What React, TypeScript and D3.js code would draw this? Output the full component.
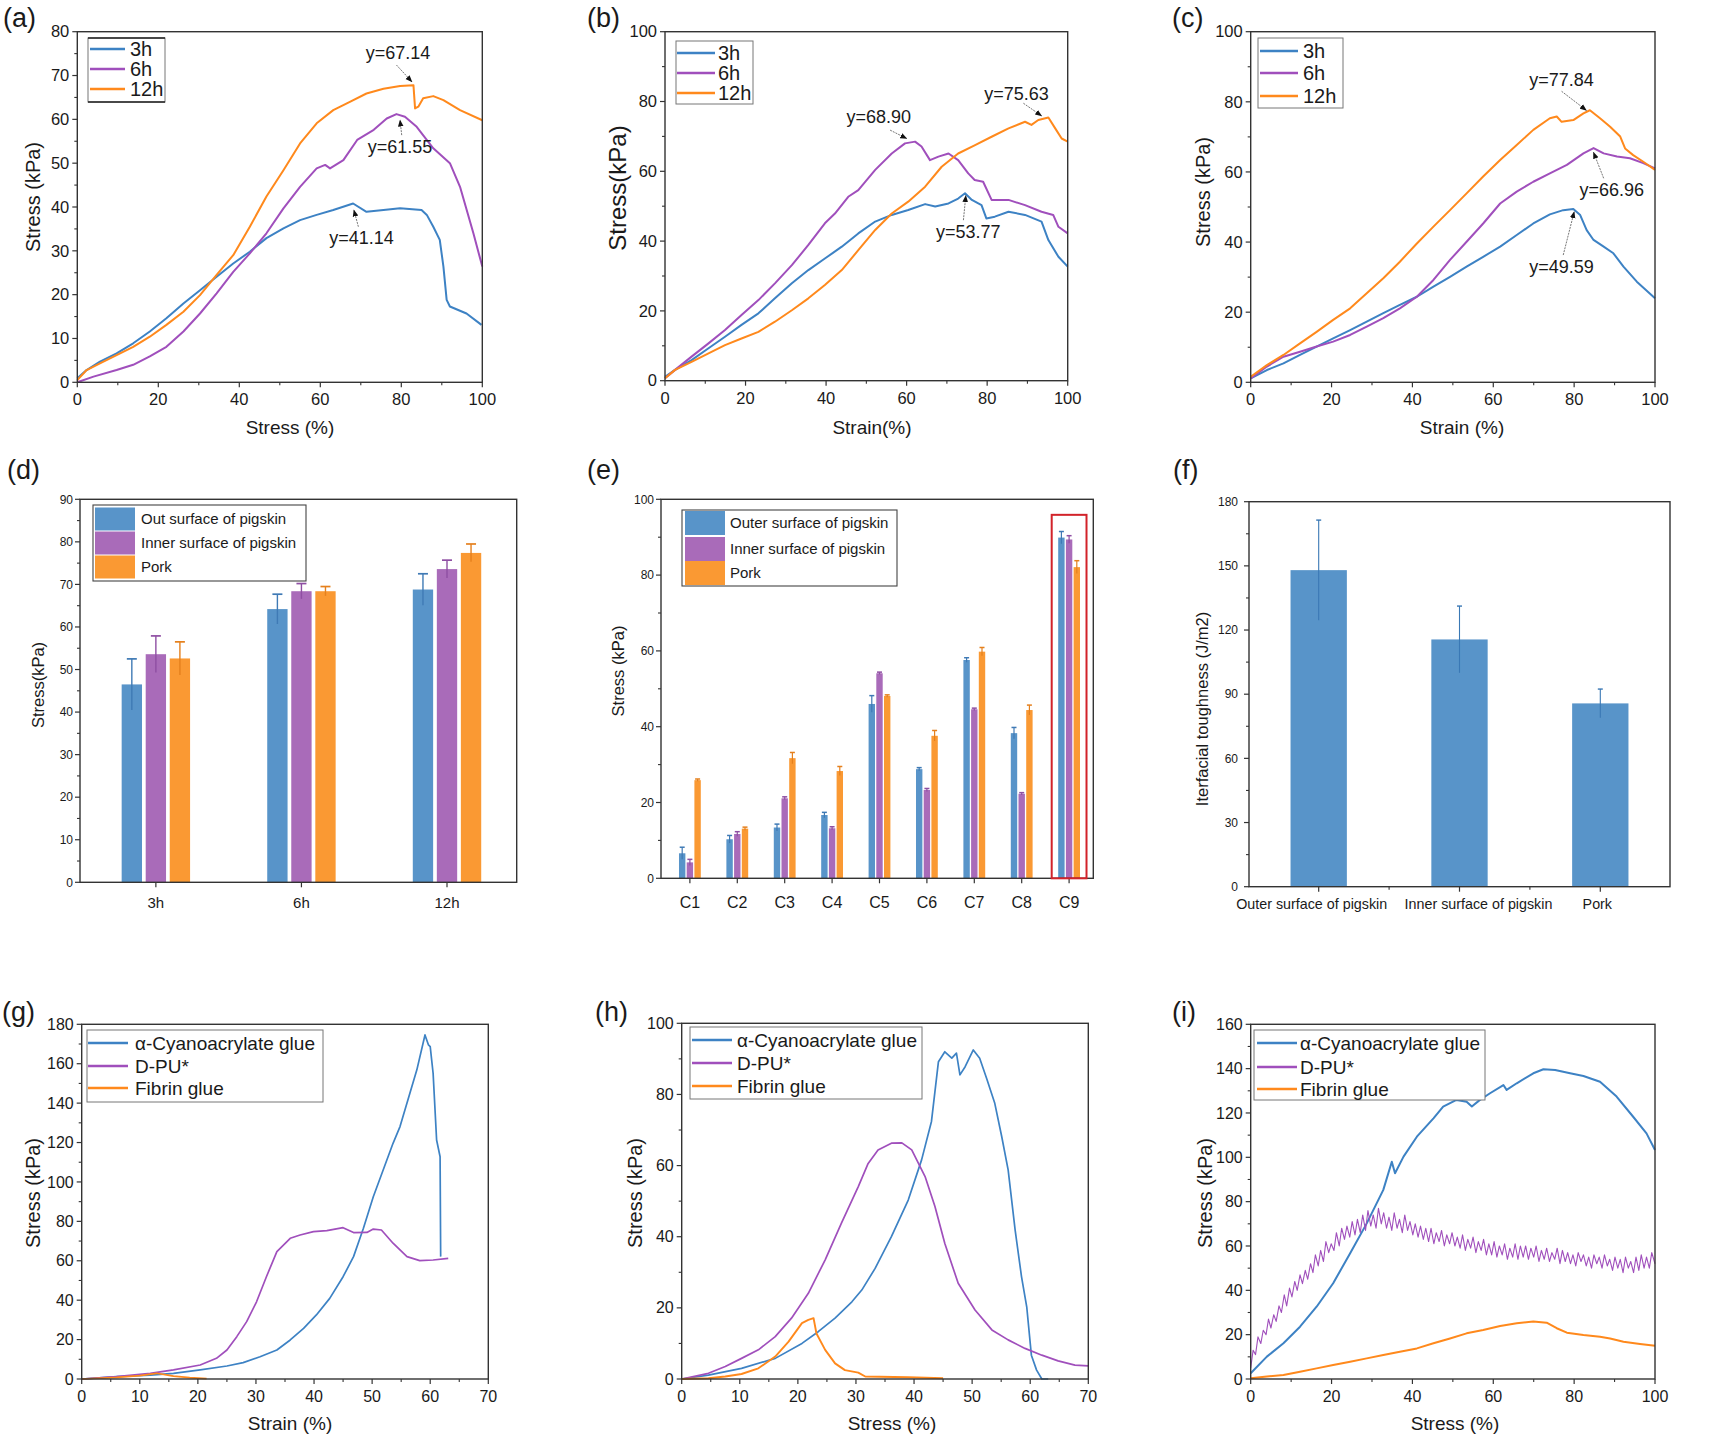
import React from 'react';
import * as d3 from 'd3';

type Pt = [number, number];

const FONT = '"Liberation Sans", Arial, Helvetica, sans-serif';
const BLUE = '#3d82c4';
const PURPLE = '#a04fbc';
const ORANGE = '#ff891c';
const BAR_BLUE = '#5894c9';
const BAR_PURPLE = '#a96bb9';
const BAR_ORANGE = '#fa9933';
const TXT = '#1a1a1a';

// ---------------- (a) ----------------
const a3h: Pt[] = [[0,0.9],[2.3,2.8],[5.6,4.7],[9.7,6.6],[13.8,8.9],[17.9,11.6],[22,14.6],[26.2,18],[30.3,21],[34.4,24.1],[38.5,27.1],[42.6,29.8],[46.7,32.9],[50.9,35.1],[55,37],[59.1,38.2],[63.2,39.3],[68.1,40.8],[71.4,38.9],[75.6,39.3],[79.7,39.7],[85,39.3],[86.3,38.2],[87.9,35.5],[89.5,32.5],[90.4,26.4],[91.2,18.8],[92,17.3],[96.1,15.7],[99.8,13.1]];
const a6h: Pt[] = [[0,0],[4,1.3],[9.7,2.8],[13.8,4],[17.9,5.9],[22,8.1],[26.2,11.6],[30.3,15.7],[34.4,20.3],[38.5,25.2],[42.6,29.4],[46.7,34],[50.9,39.7],[55,44.6],[59.1,48.8],[61.2,49.6],[62.4,48.8],[65.7,50.7],[69.1,55.3],[73.2,57.6],[76.4,60.2],[78.8,61.2],[80.9,60.6],[83.8,58.3],[87.9,53.4],[92,50],[94.5,44.6],[97.8,34],[100,26.4]];
const a12h: Pt[] = [[0,0.5],[2.3,2.8],[5.6,4.3],[9.7,6.2],[13.8,8.1],[17.9,10.4],[22,13.1],[26.2,16.1],[30.3,19.9],[34.4,24.5],[38.5,29],[42.6,35.5],[46.7,42.4],[50.9,48.4],[55,54.5],[59.1,59.1],[63.2,62.1],[67.3,64],[71.4,65.9],[75.6,67],[79.7,67.6],[83,67.8],[83.4,62.5],[84.2,62.9],[85.4,64.8],[87.9,65.3],[90.4,64.4],[94.5,62.1],[100,59.8]];

// ---------------- (b) ----------------
const b3h: Pt[] = [[0,1.1],[2.5,3.1],[6.6,5.9],[10.8,9.3],[14.9,12.6],[19,16],[23.2,19.3],[27.3,23.6],[31.5,27.9],[35.6,31.7],[39.7,35],[43.9,38.4],[48,42.2],[52.2,45.6],[56.3,47.5],[60.4,48.9],[64.6,50.6],[67.1,49.9],[70.4,50.8],[72.8,52.2],[74.5,53.7],[76.2,51.8],[78.6,50.3],[79.8,46.5],[81.9,47],[85.3,48.4],[89.4,47.5],[93.5,45.6],[95.2,40.3],[97.7,35.5],[100,32.7]];
const b6h: Pt[] = [[0,0.7],[2.5,3.1],[6.6,6.9],[10.8,10.7],[14.9,14.5],[19,18.8],[23.2,23.1],[27.3,27.9],[31.5,33.1],[35.6,38.9],[39.7,45.1],[42.2,47.9],[45.5,52.7],[48,54.6],[52.2,60.4],[56.3,65.1],[59.6,68],[62.1,68.5],[63.7,67.1],[65.8,63.2],[67.9,64.2],[70.4,65.1],[72.8,63.2],[75.3,59.4],[76.9,57.5],[79,57],[81.1,51.8],[85.3,51.8],[89.4,50.3],[93.5,48.4],[96.4,47.5],[97.7,44.1],[100,42.2]];
const b12h: Pt[] = [[0,0.7],[2.5,3.1],[6.6,5.4],[10.8,7.8],[14.9,10.2],[19,12.1],[23.2,14],[27.3,16.9],[31.5,20.2],[35.6,23.6],[39.7,27.4],[43.9,31.7],[48,37.4],[52.2,43.2],[56.3,47.9],[60.4,51.3],[64.6,55.6],[68.7,61.3],[72.8,65.1],[77,67.5],[81.1,69.9],[85.3,72.3],[89.4,74.2],[91,73.3],[92.7,74.7],[95.2,75.4],[96.9,72.3],[98.5,69.4],[100,68.5]];

// ---------------- (c) ----------------
const c3h: Pt[] = [[0,1.1],[4,3.5],[8.1,5.4],[12.2,7.8],[16.3,10.2],[20.4,12.5],[24.6,14.9],[28.7,17.3],[32.8,19.7],[36.9,22.1],[41.1,24.4],[45.2,27.3],[49.3,30.1],[53.4,33],[57.5,35.8],[61.7,38.7],[65.8,42],[69.9,45.3],[74,47.9],[77.3,49.1],[79.8,49.4],[81.5,47.7],[83.1,43.4],[84.8,40.6],[87.3,38.7],[89.7,36.8],[92.2,33],[95.5,28.7],[100,24]];
const c6h: Pt[] = [[0,1.1],[4,4.5],[8.1,7.3],[12.2,8.7],[16.3,10.2],[20.4,11.6],[24.6,13.5],[28.7,15.9],[32.8,18.3],[36.9,21.1],[41.1,24.4],[45.2,29.2],[49.3,34.9],[53.4,40.1],[57.5,45.3],[61.7,51],[65.8,54.4],[69.9,57.2],[74,59.6],[78.2,62],[82.3,65.3],[84.8,66.8],[87.3,65.3],[90.6,64.4],[93.8,63.9],[97.1,62.5],[100,61]];
const c12h: Pt[] = [[0,1.6],[4,4.9],[8.1,7.8],[12.2,11.1],[16.3,14.4],[20.4,17.8],[24.6,21.1],[28.7,25.4],[32.8,29.7],[36.9,34.4],[41.1,39.6],[45.2,44.4],[49.3,49.1],[53.4,53.9],[57.5,58.7],[61.7,63.4],[65.8,67.7],[69.9,72],[74,75.3],[75.7,75.8],[76.9,74.3],[79.8,74.8],[82.3,76.7],[83.9,77.6],[86.4,75.3],[88.9,72.9],[91.4,70.1],[92.6,66.7],[94.6,64.8],[97.1,62.9],[100,60.6]];

// ---------------- (d) ----------------
const dCats = ['3h', '6h', '12h'];
const dOuter = [46.5, 64.2, 68.8];
const dOuterErr = [6.0, 3.5, 3.7];
const dInner = [53.6, 68.4, 73.6];
const dInnerErr = [4.3, 1.8, 2.1];
const dPork = [52.6, 68.4, 77.4];
const dPorkErr = [3.9, 1.1, 2.1];

// ---------------- (e) ----------------
const eCats = ['C1', 'C2', 'C3', 'C4', 'C5', 'C6', 'C7', 'C8', 'C9'];
const eOuter = [6.6, 10.3, 13.4, 16.7, 46.0, 28.8, 57.6, 38.3, 89.9];
const eOuterErr = [1.6, 1.0, 0.9, 0.7, 2.2, 0.4, 0.6, 1.5, 1.6];
const eInner = [4.2, 11.7, 21.1, 13.2, 54.1, 23.3, 44.6, 22.3, 89.4];
const eInnerErr = [0.8, 0.6, 0.4, 0.4, 0.3, 0.4, 0.3, 0.3, 1.0];
const ePork = [25.9, 13.1, 31.7, 28.3, 48.1, 37.6, 59.8, 44.4, 82.1];
const ePorkErr = [0.3, 0.4, 1.5, 1.2, 0.3, 1.4, 1.1, 1.3, 1.7];
const eHighlight = 'C9';
const eHighlightTop = 95.9;

// ---------------- (f) ----------------
const fCats = ['Outer surface of pigskin', 'Inner surface of pigskin', 'Pork'];
const fValues = [148.0, 115.6, 85.7];
const fErrs = [23.4, 15.6, 6.7];

// ---------------- (g) ----------------
const gCyano: Pt[] = [[0,0],[6,1.2],[11.8,2],[15.8,2.9],[20.4,4.6],[25,6.6],[27.8,8.3],[30.7,11.3],[33.6,14.7],[35.9,19.8],[38.2,25.7],[40.4,32.5],[42.7,40.9],[45,51.9],[46.8,62.1],[48.5,76.5],[50.2,92.5],[51.9,106.1],[53.6,119.6],[54.8,128.1],[56.5,145],[57.7,156.9],[59.1,174.6],[59.7,169.5],[60,168.7],[60.5,155.1],[61.1,121.3],[61.7,112.8],[61.8,62.1]];
const gDPU: Pt[] = [[0,0],[6,1.2],[11.8,2.9],[15.8,4.6],[20.4,7.1],[23.2,10.5],[25,14.7],[26.7,21.5],[28.4,29.1],[30.1,39.2],[31.8,51.9],[33.6,64.6],[35.9,71.4],[37.6,73.1],[39.9,74.8],[42.2,75.3],[45,76.8],[46.8,74.3],[49.1,74.4],[50.2,76.1],[51.6,75.6],[53.6,68.9],[56,62.1],[58.2,60.1],[60.5,60.4],[63.1,61.2]];
const gFibrin: Pt[] = [[0,0],[6,0.8],[10,1.7],[12.9,2.9],[15.8,1.5],[18.6,0.7],[21.5,0.2]];

// ---------------- (h) ----------------
const hCyano: Pt[] = [[0,0],[4.6,1.1],[10.3,3],[16.1,5.8],[20.7,10],[23.5,13.3],[26.4,17.1],[29.3,21.7],[31,25],[33.3,31.1],[36.1,40],[39,50.3],[41.3,61.6],[43,72.4],[44.2,89.2],[45.3,92],[46.5,90.2],[47.3,91.6],[47.9,85.5],[48.8,87.8],[50.2,92.5],[51.3,90.2],[52.5,84.5],[53.9,77.5],[55.1,68.1],[56.2,58.8],[57.4,41.9],[58.5,28.8],[59.4,20.3],[60.2,6.7],[61.1,2.5],[62,0],[63.1,0]];
const hDPU: Pt[] = [[0,0],[4.6,1.6],[7.5,3.5],[10.3,5.8],[13.2,8.2],[16.1,11.9],[18.9,17.1],[21.8,24.1],[24.7,33.5],[27.5,43.8],[30.4,54.1],[32.1,60.6],[33.8,64.4],[36.1,66.3],[37.9,66.4],[39.6,64.4],[41.9,56.9],[43.6,48.5],[45.3,38.1],[47.6,26.9],[50.5,19.4],[53.4,13.8],[56.2,11],[59.1,8.6],[62,6.7],[64.8,5.1],[67.7,3.9],[70,3.7]];
const hFibrin: Pt[] = [[0,0],[4.6,0.2],[7.5,0.7],[10.3,1.4],[13.2,3],[16.1,6.3],[18.4,10.5],[20.7,15.7],[21.8,16.6],[22.7,17.1],[23.2,12.8],[24.7,8.2],[26.4,4.4],[28.1,2.5],[30.4,1.8],[31.6,0.7],[39,0.5],[45,0.2]];

// ---------------- (i) ----------------
const iCyano: Pt[] = [[0,2.6],[4,10.1],[8.1,16.1],[12.2,23.6],[16.3,32.6],[20.4,43.2],[24.6,56.7],[28.7,70.2],[32.8,85.3],[34.9,98],[35.7,92.8],[37.8,100.3],[41.1,109.3],[45.2,117.6],[47.6,122.9],[50.9,125.9],[53.4,125.1],[54.7,122.9],[56.7,125.9],[59.2,128.9],[62.5,132.6],[63.3,130.4],[65.8,133.4],[69.9,137.9],[72.4,139.7],[75.3,139.4],[79,137.9],[82.3,136.7],[86.4,134.1],[90.5,127.4],[94.6,118.3],[97.9,110.8],[100,103.3]];
const iDPU: Pt[] = [[0,5],[0.6,13],[1.2,11],[1.8,19],[2.5,16],[3.1,22],[3.8,20],[4.4,27],[5,23],[5.7,29],[6.3,26],[7,33],[7.6,30],[8.3,38],[8.9,33],[9.6,41],[10.2,37],[10.9,44],[11.5,40],[12.2,47],[12.8,43],[13.5,49],[14.1,45],[14.8,52],[15.4,48],[16,56],[16.7,51],[17.3,58],[18,53],[18.6,62],[19.3,57],[19.9,61],[20.6,58],[21.2,66],[21.9,60],[22.5,68],[23.2,63],[23.8,69],[24.5,64],[25.1,71],[25.8,65],[26.4,72],[27.1,66],[27.7,74],[28.4,67],[29,76],[29.7,69],[30.3,74],[31,68],[31.6,77],[32.3,70],[32.9,75],[33.6,68],[34.2,73],[34.9,67],[35.5,75],[36.2,68],[36.8,72],[37.5,66],[38.1,74],[38.8,67],[39.4,71],[40.1,65],[40.7,70],[41.4,64],[42,69],[42.7,63],[43.3,68],[44,62],[44.6,68],[45.3,61],[45.9,66],[46.6,62],[47.2,67],[47.9,60],[48.5,65],[49.2,61],[49.8,66],[50.5,60],[51.1,64],[51.8,59],[52.4,65],[53.1,58],[53.7,63],[54.4,59],[55,64],[55.7,57],[56.3,62],[57,58],[57.6,63],[58.3,56],[58.9,61],[59.6,56],[60.2,62],[60.9,55],[61.5,60],[62.2,56],[62.8,61],[63.5,54],[64.1,59],[64.8,55],[65.4,61],[66.1,54],[66.7,60],[67.4,55],[68,60],[68.7,54],[69.3,59],[70,55],[70.6,60],[71.3,53],[71.9,58],[72.6,54],[73.2,59],[73.9,53],[74.5,57],[75.2,54],[75.8,59],[76.5,52],[77.1,58],[77.8,53],[78.4,57],[79.1,52],[79.7,56],[80.4,51],[81,57],[81.7,53],[82.3,56],[83,51],[83.6,55],[84.3,50],[84.9,56],[85.6,52],[86.2,55],[86.9,50],[87.5,56],[88.2,51],[88.8,54],[89.5,49],[90.1,55],[90.8,50],[91.4,54],[92.1,48],[92.7,55],[93.4,50],[94,53],[94.7,48],[95.3,55],[96,49],[96.6,56],[97.3,50],[97.9,55],[98.6,50],[99.2,57],[100,52]];
const iFibrin: Pt[] = [[0,0.3],[4,1.1],[8.1,1.8],[12.2,3.3],[16.3,4.8],[20.4,6.3],[24.6,7.8],[28.7,9.3],[32.8,10.8],[36.9,12.3],[41.1,13.8],[45.2,16.1],[49.3,18.3],[53.4,20.6],[57.5,22.1],[61.7,23.9],[65.8,25.1],[69.9,25.9],[73.2,25.4],[75.7,22.9],[78.2,20.9],[82.3,19.8],[86.4,19.1],[88.9,18.3],[92.2,16.8],[96.3,15.8],[100,15]];

const timeNames = ['3h', '6h', '12h'];
const glueNames = ['α-Cyanoacrylate glue', 'D-PU*', 'Fibrin glue'];
const barNamesD = ['Out surface of pigskin', 'Inner surface of pigskin', 'Pork'];
const barNamesE = ['Outer surface of pigskin', 'Inner surface of pigskin', 'Pork'];

// annotations: [text, textX, textY, arrowFromX, arrowFromY, arrowToX, arrowToY] in data units
const aAnnots: [string, number, number, number, number, number, number][] = [
  ['y=67.14', 79.2, 75.1, 78.8, 72.4, 82.6, 68.6],
  ['y=61.55', 79.7, 53.8, 80.1, 56.4, 79.7, 59.8],
  ['y=41.14', 70.2, 32.9, 69.4, 35.5, 68.3, 39.3],
];
const bAnnots: [string, number, number, number, number, number, number][] = [
  ['y=68.90', 53.1, 75.6, 55.9, 71.8, 60, 69.4],
  ['y=75.63', 87.3, 82.3, 89, 79.5, 93.5, 75.9],
  ['y=53.77', 75.3, 42.7, 74.1, 46, 74.7, 53],
];
const cAnnots: [string, number, number, number, number, number, number][] = [
  ['y=77.84', 76.9, 86.2, 76.9, 83, 83, 77.6],
  ['y=66.96', 89.3, 54.8, 87.3, 58.2, 84.8, 65.6],
  ['y=49.59', 76.9, 33, 77.3, 36.3, 80, 48.6],
];

type Box = { x0: number; x1: number; y0: number; y1: number };

function ticksOf(lo: number, hi: number, step: number) {
  return d3.range(lo, hi + step * 0.001, step);
}

function Frame({ box }: { box: Box }) {
  return <rect x={box.x0} y={box.y0} width={box.x1 - box.x0} height={box.y1 - box.y0} fill="none" stroke="#333" strokeWidth={1.4} />;
}

function YAxis({ y, box, major, minor, size, gap = 8 }: any) {
  return (
    <g>
      {minor.map((v: number) => (
        <line key={'m' + v} x1={box.x0} x2={box.x0 - 3} y1={y(v)} y2={y(v)} stroke="#333" strokeWidth={1.1} />
      ))}
      {major.map((v: number) => (
        <g key={'M' + v}>
          <line x1={box.x0} x2={box.x0 - 5} y1={y(v)} y2={y(v)} stroke="#333" strokeWidth={1.2} />
          <text x={box.x0 - gap} y={y(v)} dy="0.35em" textAnchor="end" fontSize={size} fill={TXT} fontFamily={FONT}>{v}</text>
        </g>
      ))}
    </g>
  );
}

function XAxisLinear({ x, box, major, minor, size, off = 23 }: any) {
  return (
    <g>
      {minor.map((v: number) => (
        <line key={'m' + v} y1={box.y1} y2={box.y1 + 3} x1={x(v)} x2={x(v)} stroke="#333" strokeWidth={1.1} />
      ))}
      {major.map((v: number) => (
        <g key={'M' + v}>
          <line y1={box.y1} y2={box.y1 + 5} x1={x(v)} x2={x(v)} stroke="#333" strokeWidth={1.2} />
          <text x={x(v)} y={box.y1 + off} textAnchor="middle" fontSize={size} fill={TXT} fontFamily={FONT}>{v}</text>
        </g>
      ))}
    </g>
  );
}

function Tag({ label, x, y }: { label: string; x: number; y: number }) {
  return <text x={x} y={y} fontSize={27} fill={TXT} fontFamily={FONT}>{label}</text>;
}

function YTitle({ text, x, y, size }: any) {
  return (
    <text transform={`translate(${x},${y}) rotate(-90)`} textAnchor="middle" dy="0.35em" fontSize={size} fill={TXT} fontFamily={FONT}>{text}</text>
  );
}

function XTitle({ text, x, y, size }: any) {
  return <text x={x} y={y} textAnchor="middle" dy="0.35em" fontSize={size} fill={TXT} fontFamily={FONT}>{text}</text>;
}

function LineLegend({ names, colors, lg }: any) {
  return (
    <g>
      <rect x={lg.x} y={lg.y} width={lg.w} height={lg.h} fill="white" stroke="#777" strokeWidth={1} />
      {lg.dark && <line x1={lg.x} x2={lg.x + lg.w} y1={lg.y} y2={lg.y} stroke="#222" strokeWidth={1.6} />}
      {lg.dark && <line x1={lg.x} x2={lg.x + lg.w} y1={lg.y + lg.h} y2={lg.y + lg.h} stroke="#222" strokeWidth={1.6} />}
      {names.map((n: string, i: number) => (
        <g key={n}>
          <line x1={lg.lx0} x2={lg.lx1} y1={lg.rows[i]} y2={lg.rows[i]} stroke={colors[i]} strokeWidth={2.4} />
          <text x={lg.tx} y={lg.rows[i]} dy="0.35em" fontSize={lg.size} fill={TXT} fontFamily={FONT}>{n}</text>
        </g>
      ))}
    </g>
  );
}

function LinePanel(p: any) {
  const { box, xDomain, yDomain, xMajor, xMinor, yMajor, yMinor, series, colors, names, legend, annots, tickSize, xOff } = p;
  const x = d3.scaleLinear().domain(xDomain).range([box.x0, box.x1]);
  const y = d3.scaleLinear().domain(yDomain).range([box.y1, box.y0]);
  const line = d3.line<Pt>().x(d => x(d[0])).y(d => y(d[1]));
  const majX = ticksOf(xDomain[0], xDomain[1], xMajor);
  const minX = ticksOf(xDomain[0], xDomain[1], xMinor).filter(v => !majX.includes(v));
  const majY = ticksOf(yDomain[0], yDomain[1], yMajor);
  const minY = ticksOf(yDomain[0], yDomain[1], yMinor).filter(v => !majY.includes(v));
  return (
    <g>
      {series.map((s: Pt[], i: number) => (
        <path key={i} d={line(s) || ''} fill="none" stroke={colors[i]} strokeWidth={p.widths ? p.widths[i] : 2} strokeLinejoin="round" />
      ))}
      <Frame box={box} />
      <YAxis y={y} box={box} major={majY} minor={minY} size={tickSize} />
      <XAxisLinear x={x} box={box} major={majX} minor={minX} size={tickSize} off={xOff ?? 23} />
      <LineLegend names={names} colors={colors} lg={legend} />
      {(annots || []).map((a: any, i: number) => (
        <g key={'an' + i}>
          <line x1={x(a[3])} y1={y(a[4])} x2={x(a[5])} y2={y(a[6])} stroke="#666" strokeWidth={0.9} strokeDasharray="2 1" markerEnd="url(#arrowHead)" />
          <text x={x(a[1])} y={y(a[2])} dy="0.35em" textAnchor="middle" fontSize={18} fill={TXT} fontFamily={FONT}>{a[0]}</text>
        </g>
      ))}
    </g>
  );
}

function BarPanel(p: any) {
  const { box, cats, groups, colors, errColors, yDomain, yMajor, yMinor, band, inner, capW, yTickSize, xTickSize, xOff, legend, minorX, errWidth } = p;
  const y = d3.scaleLinear().domain(yDomain).range([box.y1, box.y0]);
  const x = d3.scaleBand<string>().domain(cats).range([box.x0, box.x1]).paddingInner(band.pi).paddingOuter(band.po).align(band.align);
  const sNames = groups.map((_: any, i: number) => 's' + i);
  const xi = d3.scaleBand<string>().domain(sNames).range([0, x.bandwidth()]).paddingInner(inner).paddingOuter(0);
  const majY = ticksOf(yDomain[0], yDomain[1], yMajor);
  const minY = ticksOf(yDomain[0], yDomain[1], yMinor).filter(v => !majY.includes(v));
  const step = x.step();
  const labelDx: number[] = p.labelDx || cats.map(() => 0);
  return (
    <g>
      {groups.map((g: any, si: number) => cats.map((c: string, ci: number) => {
        const bx = (x(c) as number) + (xi(sNames[si]) as number);
        const bw = xi.bandwidth();
        const v = g.values[ci];
        const e = g.errs[ci];
        const cx = bx + bw / 2;
        return (
          <g key={si + '-' + ci}>
            <rect x={bx} y={y(v)} width={bw} height={y(0) - y(v)} fill={colors[si]} />
            <line x1={cx} x2={cx} y1={y(v - e)} y2={y(v + e)} stroke={errColors[si]} strokeWidth={errWidth} />
            <line x1={cx - capW / 2} x2={cx + capW / 2} y1={y(v + e)} y2={y(v + e)} stroke={errColors[si]} strokeWidth={errWidth + 0.3} />
          </g>
        );
      }))}
      <Frame box={box} />
      <YAxis y={y} box={box} major={majY} minor={minY} size={yTickSize} gap={p.yGap ?? 8} />
      {cats.map((c: string, ci: number) => {
        const cx = (x(c) as number) + x.bandwidth() / 2;
        return (
          <g key={c}>
            <line x1={cx} x2={cx} y1={box.y1} y2={box.y1 + 5} stroke="#333" strokeWidth={1.2} />
            <text x={cx + labelDx[ci]} y={box.y1 + xOff} textAnchor="middle" fontSize={xTickSize} fill={TXT} fontFamily={FONT}>{c}</text>
          </g>
        );
      })}
      {minorX && cats.slice(0, -1).map((c: string) => {
        const mx = (x(c) as number) + x.bandwidth() / 2 + step / 2;
        return <line key={'mx' + c} x1={mx} x2={mx} y1={box.y1} y2={box.y1 + 3} stroke="#333" strokeWidth={1.1} />;
      })}
      {p.highlight && (() => {
        const hx = x(p.highlight) as number;
        const hw = x.bandwidth();
        return <rect x={hx - p.hlPad} y={y(p.highlightTop)} width={hw + 2 * p.hlPad} height={y(0) - y(p.highlightTop)} fill="none" stroke="#d2232a" strokeWidth={2} />;
      })()}
      {legend && (
        <g>
          <rect x={legend.x} y={legend.y} width={legend.w} height={legend.h} fill="white" stroke="#444" strokeWidth={1.1} />
          {legend.names.map((n: string, i: number) => (
            <g key={n}>
              <rect x={legend.sx} y={legend.rows[i] - legend.sh / 2} width={legend.sw} height={legend.sh} fill={colors[i]} />
              <text x={legend.tx} y={legend.rows[i]} dy="0.35em" fontSize={legend.size} fill={TXT} fontFamily={FONT}>{n}</text>
            </g>
          ))}
        </g>
      )}
    </g>
  );
}

export default function App() {
  const lineColors = [BLUE, PURPLE, ORANGE];
  const barColors = [BAR_BLUE, BAR_PURPLE, BAR_ORANGE];
  const errColors = ['#3f7ab5', '#8f4fa3', '#e5801d'];
  return (
    <svg width={1725} height={1439} style={{ position: 'absolute', left: 0, top: 0, background: 'white' }} xmlns="http://www.w3.org/2000/svg">
      <defs>
        <marker id="arrowHead" viewBox="0 0 10 10" refX="9" refY="5" markerWidth="7" markerHeight="7" orient="auto" markerUnits="userSpaceOnUse">
          <path d="M0,1 L10,5 L0,9 z" fill="#111" />
        </marker>
      </defs>
      <rect x={0} y={0} width={1725} height={1439} fill="white" />

      {/* (a) */}
      <Tag label="(a)" x={3} y={27} />
      <LinePanel box={{ x0: 77.3, x1: 482.3, y0: 31.7, y1: 382.3 }} xDomain={[0, 100]} yDomain={[0, 80]} xMajor={20} xMinor={10} yMajor={10} yMinor={5}
        series={[a3h, a6h, a12h]} colors={lineColors} names={timeNames} tickSize={16.5}
        legend={{ x: 88, y: 38, w: 77, h: 64, lx0: 90, lx1: 125, tx: 130, rows: [49, 69, 89], size: 20, dark: true }}
        annots={aAnnots} />
      <XTitle text="Stress (%)" x={290} y={427} size={19} />
      <YTitle text="Stress (kPa)" x={33} y={197} size={20} />

      {/* (b) */}
      <Tag label="(b)" x={587} y={27} />
      <LinePanel box={{ x0: 665, x1: 1067.7, y0: 31.7, y1: 380.7 }} xDomain={[0, 100]} yDomain={[0, 100]} xMajor={20} xMinor={10} yMajor={20} yMinor={10}
        series={[b3h, b6h, b12h]} colors={lineColors} names={timeNames} tickSize={16.5}
        legend={{ x: 676, y: 41, w: 77, h: 63, lx0: 677, lx1: 715, tx: 718, rows: [53, 73, 93], size: 20 }}
        annots={bAnnots} />
      <XTitle text="Strain(%)" x={872} y={427} size={19} />
      <YTitle text="Stress(kPa)" x={618} y={188} size={24} />

      {/* (c) */}
      <Tag label="(c)" x={1172} y={27} />
      <LinePanel box={{ x0: 1250.7, x1: 1655, y0: 31.7, y1: 382.3 }} xDomain={[0, 100]} yDomain={[0, 100]} xMajor={20} xMinor={10} yMajor={20} yMinor={10}
        series={[c3h, c6h, c12h]} colors={lineColors} names={timeNames} tickSize={16.5}
        legend={{ x: 1258, y: 38, w: 85, h: 70, lx0: 1260, lx1: 1298, tx: 1303, rows: [51, 73, 96], size: 20 }}
        annots={cAnnots} />
      <XTitle text="Strain (%)" x={1462} y={427} size={19} />
      <YTitle text="Stress (kPa)" x={1203} y={192} size={20} />

      {/* (d) */}
      <Tag label="(d)" x={7} y={479} />
      <BarPanel box={{ x0: 80, x1: 516.7, y0: 499.3, y1: 882.3 }} cats={dCats}
        groups={[{ values: dOuter, errs: dOuterErr }, { values: dInner, errs: dInnerErr }, { values: dPork, errs: dPorkErr }]}
        colors={barColors} errColors={errColors} yDomain={[0, 90]} yMajor={10} yMinor={5}
        band={{ pi: 0.53, po: 0.265, align: 0.54 }} inner={0.154} capW={10} errWidth={1.4}
        yTickSize={12} xTickSize={15} xOff={26} yGap={7}
        legend={{ x: 93, y: 505, w: 213, h: 76, sx: 95, sw: 40, sh: 23, tx: 141, rows: [519, 543, 567], size: 15, names: barNamesD }} />
      <YTitle text="Stress(kPa)" x={38} y={685} size={16.5} />

      {/* (e) */}
      <Tag label="(e)" x={587} y={479} />
      <BarPanel box={{ x0: 661, x1: 1093.3, y0: 499.3, y1: 878.3 }} cats={eCats}
        groups={[{ values: eOuter, errs: eOuterErr }, { values: eInner, errs: eInnerErr }, { values: ePork, errs: ePorkErr }]}
        colors={barColors} errColors={errColors} yDomain={[0, 100]} yMajor={20} yMinor={10}
        band={{ pi: 0.54, po: 0.33, align: 0.575 }} inner={0.17} capW={5} errWidth={1.2}
        yTickSize={12} xTickSize={16} xOff={30} yGap={7}
        highlight={eHighlight} highlightTop={eHighlightTop} hlPad={6.5}
        legend={{ x: 682, y: 510, w: 215, h: 76, sx: 685, sw: 40, sh: 24, tx: 730, rows: [523, 549, 573], size: 15, names: barNamesE }} />
      <YTitle text="Stress (kPa)" x={618} y={671} size={16.5} />

      {/* (f) */}
      <Tag label="(f)" x={1173} y={479} />
      <BarPanel box={{ x0: 1249, x1: 1670, y0: 501.7, y1: 886.7 }} cats={fCats}
        groups={[{ values: fValues, errs: fErrs }]}
        colors={[BAR_BLUE]} errColors={['#3a78b5']} yDomain={[0, 180]} yMajor={30} yMinor={15}
        band={{ pi: 0.6, po: 0.295, align: 0.5 }} inner={0} capW={5} errWidth={1.1}
        yTickSize={12} xTickSize={14.3} xOff={22} yGap={11} minorX={true} labelDx={[-7, 19, -3]} />
      <YTitle text="Iterfacial toughness (J/m2)" x={1202} y={709} size={16.5} />

      {/* (g) */}
      <Tag label="(g)" x={2} y={1021} />
      <LinePanel box={{ x0: 81.7, x1: 488.3, y0: 1024.3, y1: 1379 }} xDomain={[0, 70]} yDomain={[0, 180]} xMajor={10} xMinor={5} yMajor={20} yMinor={10}
        series={[gCyano, gDPU, gFibrin]} colors={lineColors} names={glueNames} tickSize={16} widths={[1.7, 1.7, 1.7]}
        legend={{ x: 87, y: 1030, w: 236, h: 72, lx0: 88, lx1: 128, tx: 135, rows: [1043, 1066, 1088], size: 19 }} />
      <XTitle text="Strain (%)" x={290} y={1423} size={19} />
      <YTitle text="Stress (kPa)" x={33} y={1193} size={20} />

      {/* (h) */}
      <Tag label="(h)" x={595} y={1021} />
      <LinePanel box={{ x0: 681.7, x1: 1088.3, y0: 1023.3, y1: 1379 }} xDomain={[0, 70]} yDomain={[0, 100]} xMajor={10} xMinor={5} yMajor={20} yMinor={10}
        series={[hCyano, hDPU, hFibrin]} colors={lineColors} names={glueNames} tickSize={16} widths={[1.7, 1.7, 1.9]}
        legend={{ x: 690, y: 1027, w: 232, h: 72, lx0: 692, lx1: 732, tx: 737, rows: [1040, 1063, 1086], size: 19 }} />
      <XTitle text="Stress (%)" x={892} y={1423} size={19} />
      <YTitle text="Stress (kPa)" x={635} y={1193} size={20} />

      {/* (i) */}
      <Tag label="(i)" x={1172} y={1021} />
      <LinePanel box={{ x0: 1250.7, x1: 1655, y0: 1024.3, y1: 1379 }} xDomain={[0, 100]} yDomain={[0, 160]} xMajor={20} xMinor={10} yMajor={20} yMinor={10}
        series={[iCyano, iDPU, iFibrin]} colors={lineColors} names={glueNames} tickSize={16} widths={[2, 1.1, 2]}
        legend={{ x: 1254, y: 1030, w: 231, h: 70, lx0: 1257, lx1: 1297, tx: 1300, rows: [1043, 1067, 1089], size: 19 }} />
      <XTitle text="Stress (%)" x={1455} y={1423} size={19} />
      <YTitle text="Stress (kPa)" x={1205} y={1193} size={20} />
    </svg>
  );
}
